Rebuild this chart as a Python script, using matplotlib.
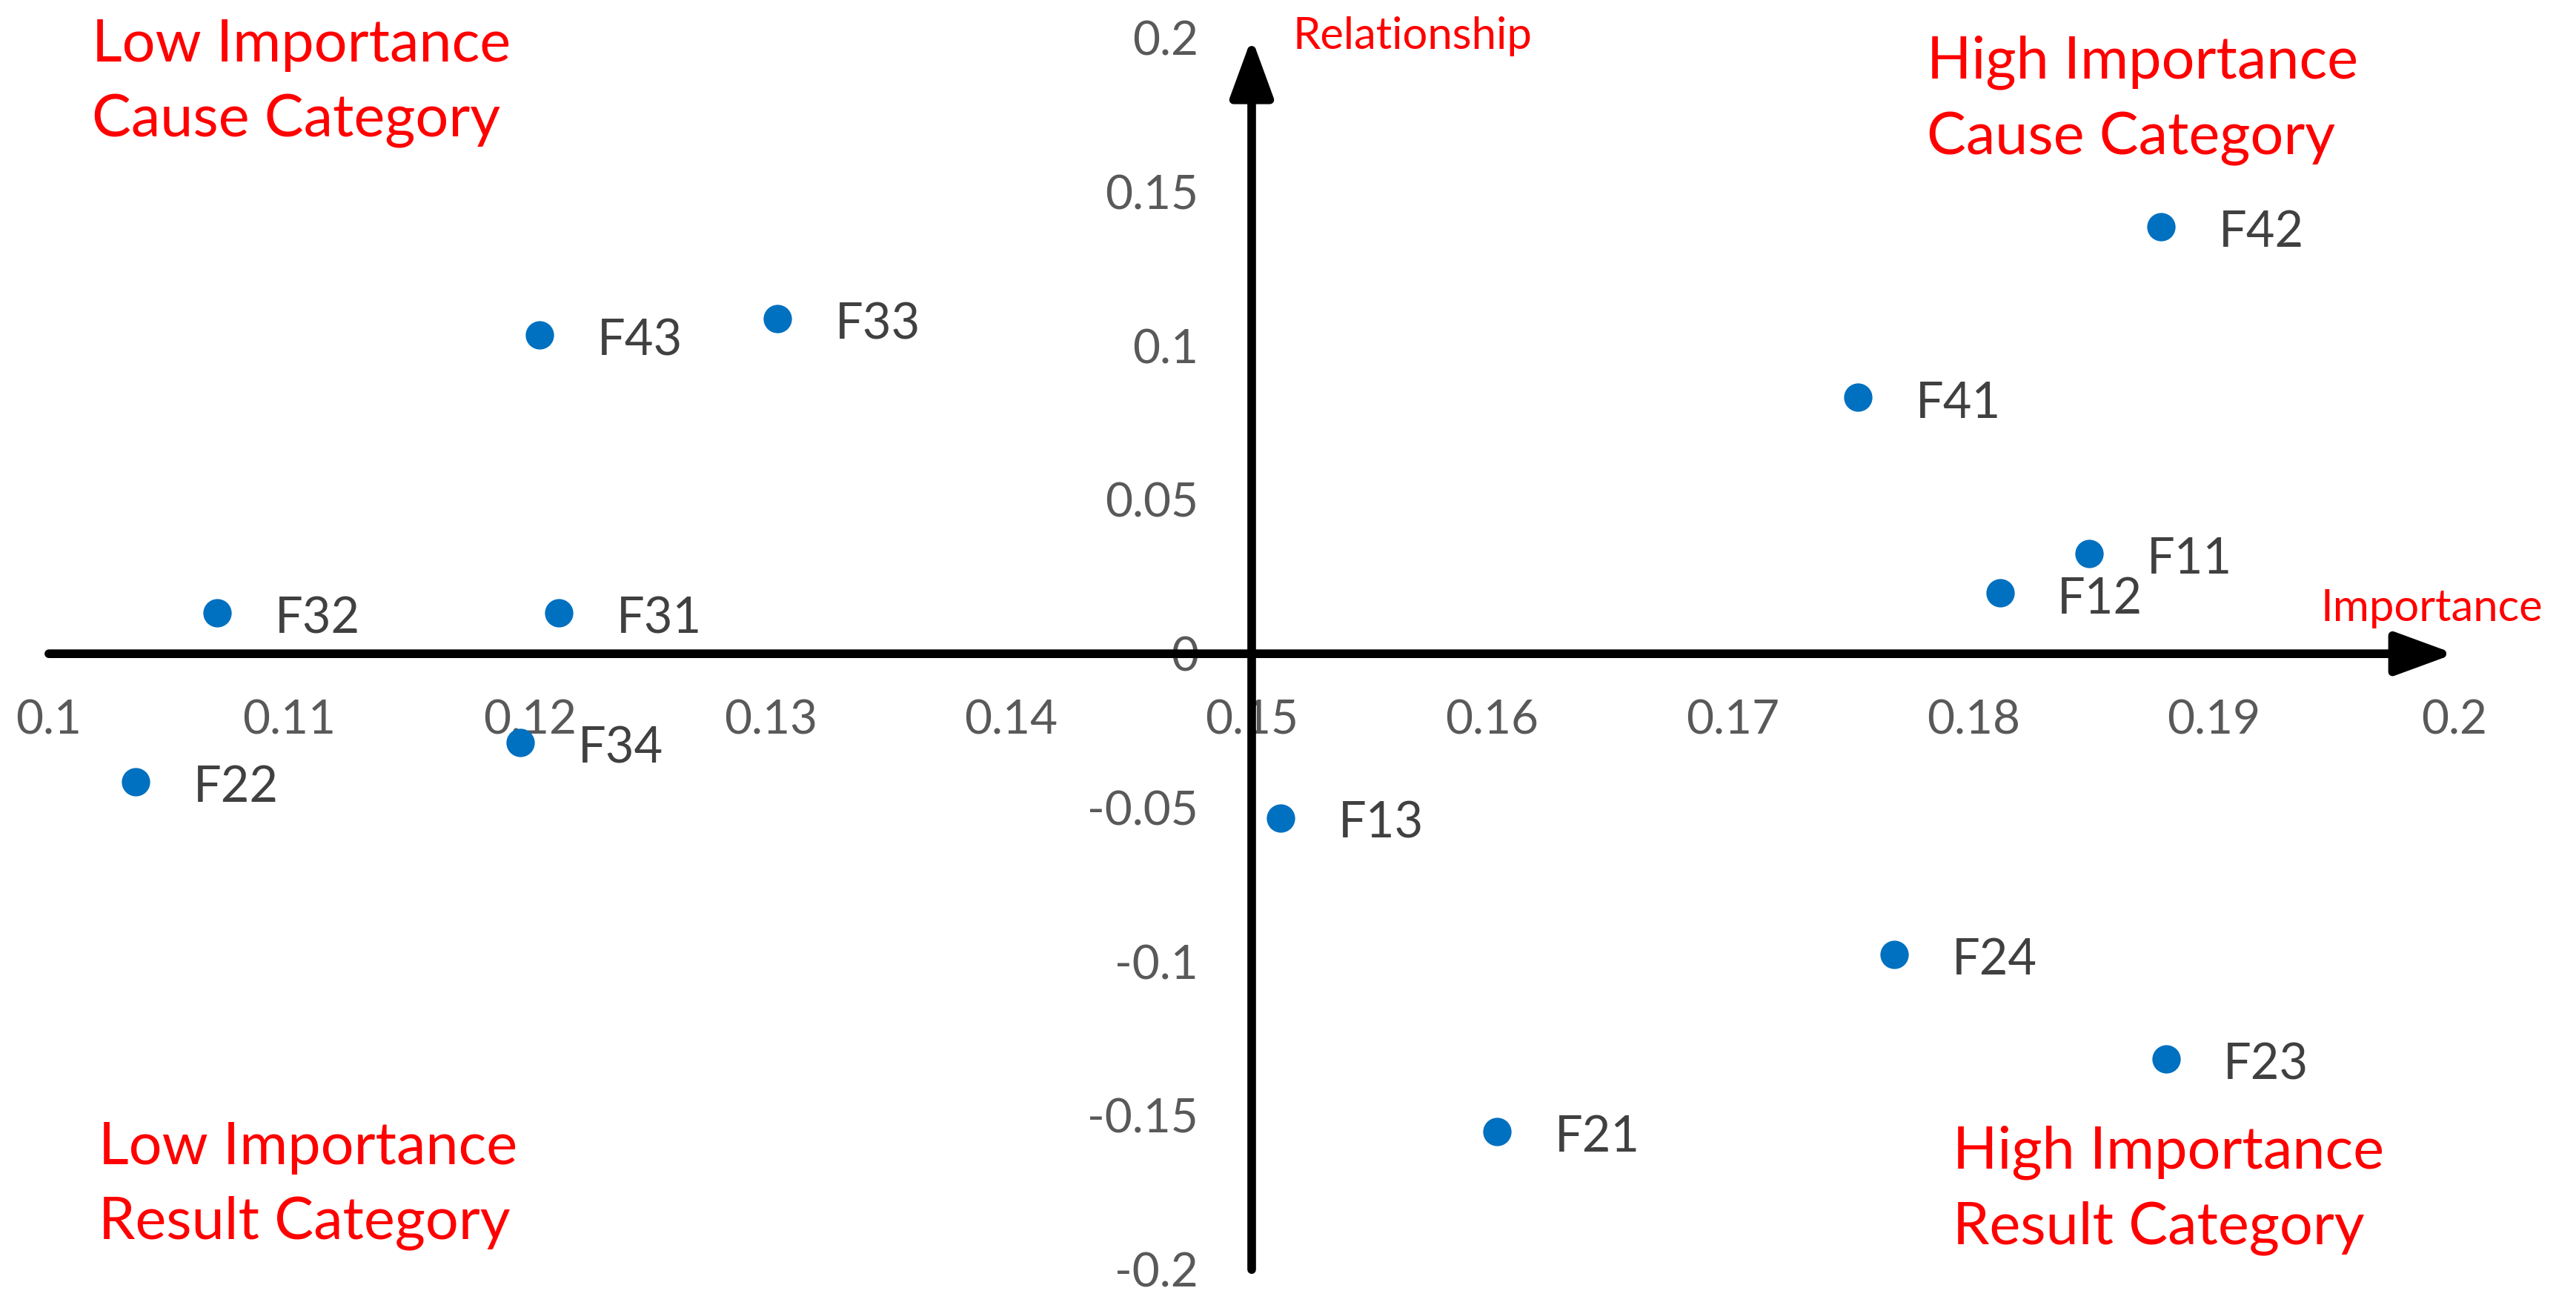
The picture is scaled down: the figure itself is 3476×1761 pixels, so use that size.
import matplotlib
matplotlib.use('Agg')
import matplotlib.pyplot as plt

plt.rcParams['font.family'] = ['Lato', 'DejaVu Sans']
plt.rcParams['axes.unicode_minus'] = False

# factor positions: importance (x) vs relationship (y)
factors = ['F11', 'F12', 'F13', 'F21', 'F22', 'F23', 'F24',
           'F31', 'F32', 'F33', 'F34', 'F41', 'F42', 'F43']
importance = [0.1848, 0.1811, 0.1512, 0.1602, 0.1036, 0.1880, 0.1767,
              0.1212, 0.1070, 0.1303, 0.1196, 0.1752, 0.1878, 0.1204]
relationship = [0.0325, 0.0197, -0.0533, -0.1552, -0.0416, -0.1317, -0.0976,
                0.0133, 0.0133, 0.1088, -0.0288, 0.0832, 0.1387, 0.1035]

x_ticks = [0.10, 0.11, 0.12, 0.13, 0.14, 0.15, 0.16, 0.17, 0.18, 0.19, 0.20]
x_tick_labels = ['0.1', '0.11', '0.12', '0.13', '0.14', '0.15', '0.16',
                 '0.17', '0.18', '0.19', '0.2']
y_ticks = [-0.2, -0.15, -0.1, -0.05, 0, 0.05, 0.1, 0.15, 0.2]
y_tick_labels = ['-0.2', '-0.15', '-0.1', '-0.05', '0', '0.05', '0.1', '0.15', '0.2']

quadrants = {
    'Low Importance\nCause Category': (0.0357, 0.936),
    'High Importance\nCause Category': (0.748, 0.923),
    'Low Importance\nResult Category': (0.0383, 0.0915),
    'High Importance\nResult Category': (0.758, 0.088),
}

RED = '#FF0000'
BLUE = '#0070C0'

fig = plt.figure(figsize=(17.38, 8.805), dpi=200)
ax = fig.add_axes([0, 0, 1, 1])
ax.set_xlim(0.09797, 0.20505)
ax.set_ylim(-0.2115, 0.2123)
ax.patch.set_alpha(0)

# axes cross at (0.15, 0); ticks come from the axis, the lines are arrows
ax.spines['left'].set_position(('data', 0.15))
ax.spines['bottom'].set_position(('data', 0))
for s in ax.spines.values():
    s.set_color('none')
ax.set_xticks(x_ticks)
ax.set_xticklabels(x_tick_labels)
ax.set_yticks(y_ticks)
ax.set_yticklabels(y_tick_labels)
ax.tick_params(axis='x', length=0, pad=22, labelsize=23, labelcolor='#595959')
ax.tick_params(axis='y', length=0, pad=26, labelsize=23, labelcolor='#595959')

arrow = dict(arrowstyle='-|>,head_length=0.6,head_width=0.22', color='black',
             lw=4.2, mutation_scale=40, shrinkA=0, shrinkB=0)
ax.annotate('', xy=(0.2, 0), xytext=(0.1, 0), arrowprops=arrow, zorder=3)
ax.annotate('', xy=(0.15, 0.2), xytext=(0.15, -0.2), arrowprops=arrow, zorder=3)

ax.scatter(importance, relationship, s=190, color=BLUE, zorder=4, linewidths=0)
for name, x, y in zip(factors, importance, relationship):
    ax.annotate(name, (x, y), xytext=(28, -3), textcoords='offset points',
                ha='left', va='center', fontsize=24, color='#404040', zorder=5)

for txt, (fx, fy) in quadrants.items():
    fig.text(fx, fy, txt, ha='left', va='center', fontsize=28.5, color=RED,
             linespacing=1.5)

fig.text(0.502, 0.972, 'Relationship', ha='left', va='center', fontsize=21.5, color=RED)
fig.text(0.901, 0.534, 'Importance', ha='left', va='center', fontsize=21.5, color=RED)

fig.savefig('out.png', dpi=200)
plt.close(fig)
